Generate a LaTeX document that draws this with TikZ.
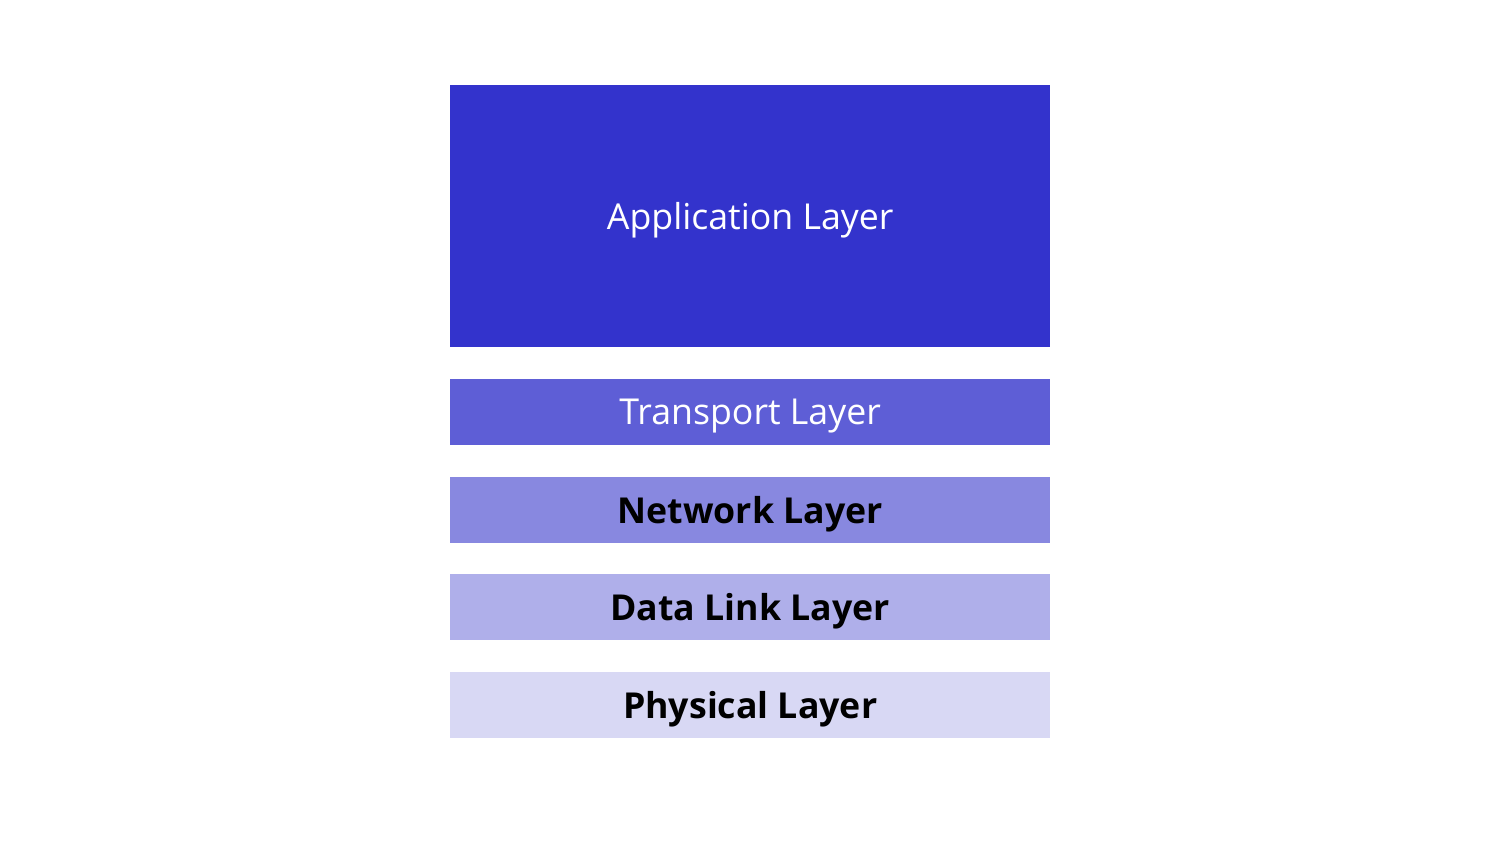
\documentclass[tikz,border=0pt]{standalone}
\usepackage{fontspec}
\setmainfont{Open Sans}
\definecolor{appc}{HTML}{3333CC}
\definecolor{trac}{HTML}{5E5ED6}
\definecolor{netc}{HTML}{8888E0}
\definecolor{dlc}{HTML}{AFAFEA}
\definecolor{phc}{HTML}{D8D8F4}
\newcommand{\lyrtext}[1]{\raisebox{-4bp}[\height][\depth]{#1}}
\tikzset{
  layer/.style={draw=none, minimum width=600bp, inner sep=0pt, anchor=north west, font=\fontsize{35.7bp}{42bp}\selectfont},
  lightlabel/.style={text=white},
  darklabel/.style={text=black, font=\fontsize{35.7bp}{42bp}\selectfont\bfseries}
}
\begin{document}
\begin{tikzpicture}[x=1bp,y=-1bp]
\fill[white] (0,0) rectangle (1500,844);
\useasboundingbox (0,0) rectangle (1500,844);
\node[layer, lightlabel, fill=appc, minimum height=262bp] (app) at (450,85) {\lyrtext{Application Layer}};
\node[layer, lightlabel, fill=trac, minimum height=66bp] (tra) at (450,379) {\lyrtext{Transport Layer}};
\node[layer, darklabel, fill=netc, minimum height=66bp] (net) at (450,477) {\lyrtext{Network Layer}};
\node[layer, darklabel, fill=dlc, minimum height=66bp] (dl) at (450,574) {\lyrtext{Data Link Layer}};
\node[layer, darklabel, fill=phc, minimum height=66bp] (ph) at (450,672) {\lyrtext{Physical Layer}};
\end{tikzpicture}
\end{document}
